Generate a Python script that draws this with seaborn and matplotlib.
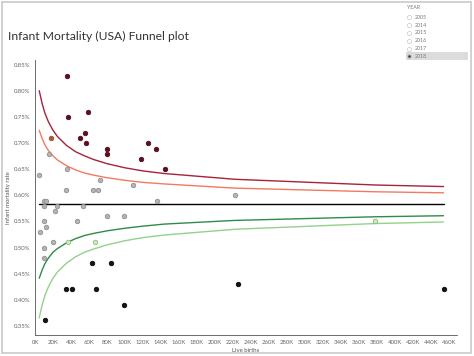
import numpy as np
import pandas as pd
import matplotlib
matplotlib.use("Agg")
import matplotlib.pyplot as plt
from matplotlib.patches import Rectangle
import seaborn as sns

# ── data (births in thousands, rate in %) ────────────────────────────────────
births = [4.7, 5.8, 10.2, 11.7, 10.2, 10.2, 12.0, 10.2, 10.2, 11.3,
          15.7, 17.6, 20.5, 22.0, 24.5, 35.0, 36.0, 36.0, 36.5, 36.5,
          34.2, 41.3, 46.5, 49.5, 53.5, 55.7, 57.0, 59.0, 62.8, 64.0,
          66.5, 68.3, 70.0, 72.5, 79.5, 80.5, 80.5, 84.7, 98.7, 99.4,
          109, 118, 126, 135, 136, 144, 222, 226, 378, 454]
rate = [0.64, 0.53, 0.59, 0.59, 0.58, 0.55, 0.54, 0.50, 0.48, 0.36,
        0.68, 0.71, 0.51, 0.57, 0.58, 0.61, 0.65, 0.83, 0.75, 0.51,
        0.42, 0.42, 0.55, 0.71, 0.58, 0.72, 0.70, 0.76, 0.47, 0.61,
        0.51, 0.42, 0.61, 0.63, 0.56, 0.69, 0.68, 0.47, 0.56, 0.39,
        0.62, 0.67, 0.70, 0.69, 0.59, 0.65, 0.60, 0.43, 0.55, 0.42]
group = ["in", "in", "in", "in", "in", "in", "in", "in", "in", "low99",
         "in", "up95", "in", "in", "in", "in", "in", "up99", "up99", "low95",
         "low99", "low99", "in", "up99", "in", "up99", "up99", "up99", "low99", "in",
         "low95", "low99", "in", "in", "in", "up99", "up99", "low99", "in", "low99",
         "in", "up99", "up99", "up99", "in", "up99", "in", "low99", "low95", "low99"]

# control limits
limit_births = [4.7, 8, 11, 15, 20, 25, 35, 45, 55, 65, 80, 100, 120, 144, 222, 378, 454]
upper_998 = [0.801, 0.776, 0.758, 0.741, 0.725, 0.713, 0.696, 0.684, 0.676,
             0.669, 0.661, 0.653, 0.647, 0.642, 0.631, 0.620, 0.617]
upper_95 = [0.725, 0.709, 0.697, 0.686, 0.676, 0.668, 0.657, 0.649, 0.643,
            0.639, 0.634, 0.629, 0.625, 0.622, 0.614, 0.607, 0.605]
lower_95 = [0.441, 0.457, 0.469, 0.480, 0.491, 0.498, 0.509, 0.517, 0.523,
            0.527, 0.532, 0.537, 0.541, 0.545, 0.552, 0.559, 0.561]
lower_998 = [0.365, 0.390, 0.408, 0.425, 0.441, 0.453, 0.470, 0.482, 0.491,
             0.497, 0.505, 0.513, 0.519, 0.524, 0.535, 0.546, 0.549]
mean_births = [4.7, 454]
mean_rate = [0.583, 0.583]

x_ticks = list(range(0, 461, 20))
y_ticks = [0.35, 0.40, 0.45, 0.50, 0.55, 0.60, 0.65, 0.70, 0.75, 0.80, 0.85]
years = ["2005", "2014", "2015", "2016", "2017", "2018"]
selected_year = "2018"

# ── styling ──────────────────────────────────────────────────────────────────
sns.set_style("white")
plt.rcParams['font.family'] = ['Lato', 'DejaVu Sans']

point_style = {
    "up99":  ("#620c20", "#4a0815"),
    "up95":  ("#b9582f", "#9c4725"),
    "in":    ("#b3b3b3", "#8a8a8a"),
    "low95": ("#cfe8bf", "#7fb66c"),
    "low99": ("#141414", "#000000"),
}
line_colors = {
    "upper_998": "#a5233b",
    "upper_95": "#f27a63",
    "lower_95": "#2f8b4b",
    "lower_998": "#94d18b",
}

pts = pd.DataFrame({"births": np.array(births) * 1000, "rate": rate, "group": group})
lims = pd.concat([
    pd.DataFrame({"births": np.array(limit_births) * 1000, "value": v, "limit": name})
    for name, v in [("upper_998", upper_998), ("upper_95", upper_95),
                    ("lower_95", lower_95), ("lower_998", lower_998)]
])
mean_df = pd.DataFrame({"births": np.array(mean_births) * 1000, "value": mean_rate})

fig = plt.figure(figsize=(4.74, 3.56), dpi=100)
ax = fig.add_axes([35 / 474, 1 - 335 / 356, 422 / 474, 275 / 356])

sns.lineplot(data=mean_df, x="births", y="value", color="black", lw=1.0, ax=ax)
sns.lineplot(data=lims, x="births", y="value", hue="limit", palette=line_colors,
             lw=1.0, legend=False, ax=ax)
for g, (fc, ec) in point_style.items():
    sub = pts[pts.group == g]
    sns.scatterplot(data=sub, x="births", y="rate", color=fc, edgecolor=ec,
                    s=11, linewidth=0.5, zorder=5, ax=ax)

ax.set_xlim(0, 469000)
ax.set_ylim(0.332, 0.86)
ax.set_xticks([t * 1000 for t in x_ticks])
ax.set_xticklabels([f"{t}K" for t in x_ticks])
ax.set_yticks(y_ticks)
ax.set_yticklabels([f"{t:.2f}%" for t in y_ticks])
ax.tick_params(axis="both", labelsize=4.3, colors="#666666", length=2, width=0.5, pad=1.5)
ax.set_xlabel("Live births", fontsize=4.3, color="#555555", labelpad=2)
ax.set_ylabel("Infant mortality rate", fontsize=4.3, color="#555555")
ax.yaxis.set_label_coords(-0.058, 0.5)
sns.despine(ax=ax)
for side in ("left", "bottom"):
    ax.spines[side].set_color("#555555")
    ax.spines[side].set_linewidth(0.6)

# ── title, year filter panel, frame ──────────────────────────────────────────
over = fig.add_axes([0, 0, 1, 1], zorder=-1)
over.set_xlim(0, 474)
over.set_ylim(356, 0)
over.axis("off")
over.add_patch(Rectangle((2, 2), 469, 351, fill=False, edgecolor="#c9c9c9", lw=1.2))
over.text(8, 36, "Infant Mortality (USA) Funnel plot", fontsize=8.7, color="#333333",
          va="center", ha="left")
over.text(407, 7.5, "YEAR", fontsize=3.8, color="#777777", va="center", ha="left")
for i, yr in enumerate(years):
    yy = 17.3 + 7.8 * i
    if yr == selected_year:
        over.add_patch(Rectangle((406, yy - 4), 62, 8, color="#dcdcdc", lw=0))
        over.plot(409.5, yy, "o", ms=1.0, color="#444444")
    over.plot(409.5, yy, "o", ms=3.0, mfc="none", mec="#bbbbbb", mew=0.4)
    over.text(414.5, yy, yr, fontsize=3.8, color="#777777", va="center", ha="left")

fig.savefig("out.png", dpi=100)
